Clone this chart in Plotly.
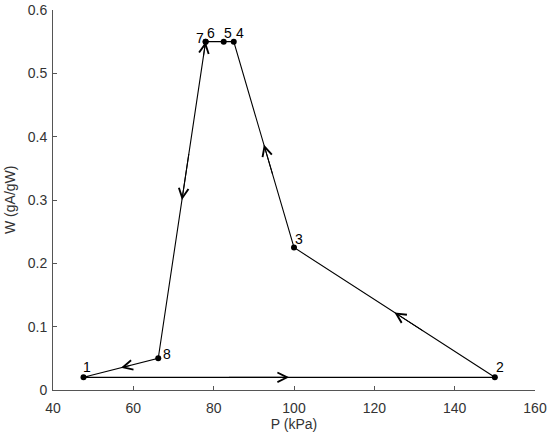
import plotly.graph_objects as go

# cycle states 1..8 (P in kPa, W in gA/gW)
labels = ["1", "2", "3", "4", "5", "6", "7", "8"]
P = [47.6, 150, 100, 85, 82.5, 78, 78, 66.2]
W = [0.02, 0.02, 0.225, 0.55, 0.55, 0.55, 0.55, 0.05]

# label nudges in pixels (dx, dy), just styling
label_shift = {
    "1": (3, 10), "2": (5, 10), "3": (5, 9), "4": (6, 9),
    "5": (4, 9), "6": (5, 9), "7": (-6, 4), "8": (9, 4),
}

FONT = "Liberation Sans, Arial, sans-serif"
AX = "#555555"
TXT = "#333333"

# closed path 1->2->...->8->1
px_ = P + [P[0]]
py_ = W + [W[0]]

fig = go.Figure()
fig.add_trace(go.Scatter(
    x=px_, y=py_, mode="lines",
    line=dict(color="black", width=1.1),
    hoverinfo="skip", showlegend=False,
))
fig.add_trace(go.Scatter(
    x=P, y=W, mode="markers",
    marker=dict(color="black", size=6),
    showlegend=False,
))

# direction arrows at segment midpoints
for i in range(len(px_) - 1):
    x0, y0, x1, y1 = px_[i], py_[i], px_[i + 1], py_[i + 1]
    if x0 == x1 and y0 == y1:
        continue
    mx, my = (x0 + x1) / 2, (y0 + y1) / 2
    fig.add_annotation(
        x=mx, y=my, ax=mx - 0.15 * (x1 - x0), ay=my - 0.15 * (y1 - y0),
        xref="x", yref="y", axref="x", ayref="y",
        showarrow=True, arrowhead=5, arrowsize=1.9, arrowwidth=1,
        arrowcolor="black", text="",
    )

# extra head arriving at state 7 from below
fig.add_annotation(
    x=P[6], y=W[6], ax=P[6] - 0.05 * (P[6] - P[7]), ay=W[6] - 0.05 * (W[6] - W[7]),
    xref="x", yref="y", axref="x", ayref="y",
    showarrow=True, arrowhead=5, arrowsize=1.9, arrowwidth=1,
    arrowcolor="black", text="",
)

for lab, x, y in zip(labels, P, W):
    dx, dy = label_shift[lab]
    fig.add_annotation(
        x=x, y=y, text=lab, showarrow=False, xshift=dx, yshift=dy,
        font=dict(family=FONT, size=14, color="black"),
    )

# y axis title as a rotated annotation so it can sit close to the edge
fig.add_annotation(
    xref="paper", yref="paper", x=0, y=0.5, xshift=-43,
    text="W (gA/gW)", textangle=-90, showarrow=False,
    xanchor="center", yanchor="middle",
    font=dict(family=FONT, size=14, color=TXT),
)

fig.update_xaxes(
    range=[40, 160], dtick=20, showgrid=False, zeroline=False,
    showline=True, linecolor=AX, linewidth=1, mirror=False,
    ticks="inside", ticklen=4, tickcolor=AX, ticklabelstandoff=5,
    tickfont=dict(family=FONT, size=14, color=TXT),
    title=dict(text="P (kPa)", font=dict(family=FONT, size=14, color=TXT), standoff=3),
    automargin=False,
)
fig.update_yaxes(
    range=[0, 0.6], dtick=0.1, showgrid=False, zeroline=False,
    showline=True, linecolor=AX, linewidth=1, mirror=False,
    ticks="inside", ticklen=4, tickcolor=AX, ticklabelstandoff=2,
    tickfont=dict(family=FONT, size=14, color=TXT),
    automargin=False,
)
fig.update_layout(
    width=550, height=439,
    margin=dict(l=53, r=15, t=10, b=49),
    plot_bgcolor="white", paper_bgcolor="white",
    showlegend=False,
)

# drop the default 8px page margin so the figure fills the window
fig.write_html(
    "out.html",
    config={"displayModeBar": False},
    post_script="document.body.style.margin='0';",
)
